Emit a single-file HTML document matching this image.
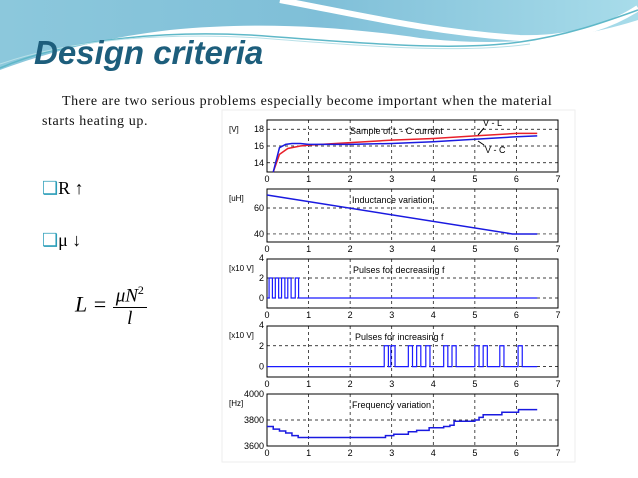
<!DOCTYPE html>
<html><head><meta charset="utf-8"><style>
body{margin:0;width:638px;height:478px;overflow:hidden;background:#fff;position:relative;font-family:"Liberation Serif",serif}
.abs{position:absolute}
</style></head><body>
<svg class="abs" style="left:0;top:0" width="638" height="478">
<defs><linearGradient id="g1" x1="0" x2="1"><stop offset="0" stop-color="#8cc8dc"/><stop offset="0.5" stop-color="#7fbfd8"/><stop offset="1" stop-color="#a8dcea"/></linearGradient></defs>
<path d="M0,0 H638 V20 C560,45 480,45 420,38 C330,25 250,22 170,30 C100,38 40,55 0,70 Z" fill="url(#g1)"/>
<path d="M280,0 C360,15 430,32 520,38 C580,40 620,20 638,8" stroke="#fff" stroke-width="6" fill="none"/>
<path d="M0,68 C60,42 150,30 250,35 C350,42 450,52 520,42 C570,35 610,20 638,10" stroke="#5fb8c8" stroke-width="1.5" fill="none"/>
<path d="M0,64 C70,40 160,32 260,38 C360,46 460,54 530,44" stroke="#b8e0e8" stroke-width="1" fill="none"/>
<rect x="222" y="110" width="353" height="352" fill="none" stroke="#eee"/>
</svg>
<div class="abs" style="left:34px;top:34px;font-family:'Liberation Sans',sans-serif;font-style:italic;font-weight:bold;font-size:33px;color:#1d5e7c">Design criteria</div>
<div class="abs" style="left:42px;top:92px;font-size:14px;letter-spacing:0.6px;line-height:20px;color:#111;white-space:nowrap"><span style="padding-left:20px">There are two serious problems especially become important when the material</span><br>starts heating up.</div>
<div class="abs" style="left:42px;top:178px;font-size:18px"><span style="color:#2a9db8">❑</span>R ↑</div>
<div class="abs" style="left:42px;top:230px;font-size:18px"><span style="color:#2a9db8">❑</span>μ ↓</div>
<div class="abs" style="left:75px;top:283px;font-size:22px;font-style:italic">L = <span style="display:inline-block;vertical-align:middle;text-align:center;font-size:19px"><span style="display:block;border-bottom:1.5px solid #000;padding:0 3px">μN<sup style="font-size:12px;font-style:normal">2</sup></span><span style="display:block">l</span></span></div>
<svg id="chart" class="abs" style="left:0;top:0" width="638" height="478"></svg>
<script>
const xTicks=[0,1,2,3,4,5,6,7];
const vcX=[0.15,0.3,0.45,0.6,0.8,1,2,3,4,5,6,6.5];
const vcY=[12.9,15.8,16.2,16.3,16.3,16.2,16.2,16.3,16.5,16.8,17.1,17.2];
const vlX=[0.15,0.3,0.5,0.8,1,2,3,4,5,6,6.5];
const vlY=[12.9,15,15.7,16,16.1,16.4,16.7,16.9,17.2,17.5,17.5];
const indX=[0,5.9,6.5];
const indY=[70,40,40];
const decStarts=[0.05,0.2,0.35,0.5,0.68];
const incStarts=[2.82,2.98,3.4,3.6,3.82,4.25,4.45,5.0,5.2,5.6,6.04];
const freqStepX=[0,0.15,0.3,0.45,0.6,0.75,2.85,3.05,3.4,3.6,3.9,4.25,4.4,4.5,5.0,5.1,5.2,5.65,6.05];
const freqStepY=[3750,3730,3715,3700,3680,3665,3680,3690,3710,3720,3740,3750,3760,3790,3800,3820,3840,3860,3880];
const NS="http://www.w3.org/2000/svg";
const svg=document.getElementById('chart');
const X0=267,X1=558;
const sx=v=>X0+(v/7)*(X1-X0);
function mk(t,a){const e=document.createElementNS(NS,t);for(const k in a)e.setAttribute(k,a[k]);svg.appendChild(e);return e;}
function panel(name,top,bot,ymin,ymax,yTicks,unit,title,tx){
  const sy=v=>bot-(v-ymin)/(ymax-ymin)*(bot-top);
  const g=mk('g',{});
  
  
  mk('rect',{x:X0,y:top,width:X1-X0,height:bot-top,fill:'#fff',stroke:'#000','stroke-width':1});
  xTicks.slice(1,-1).forEach(t=>mk('line',{x1:sx(t),x2:sx(t),y1:top,y2:bot,stroke:'#000','stroke-dasharray':'3,3','stroke-width':0.7}));
  yTicks.forEach(t=>{const y=sy(t);if(y>top+1&&y<bot-1)mk('line',{x1:X0,x2:X1,y1:y,y2:y,stroke:'#000','stroke-dasharray':'3,3','stroke-width':0.7});
    const l=mk('text',{x:X0-3,y:y+3,'text-anchor':'end','font-size':9,'font-family':'Liberation Sans Narrow, Liberation Sans, sans-serif'});l.textContent=t;
    
    });
  xTicks.forEach(t=>{const l=mk('text',{x:sx(t),y:bot+10,'text-anchor':'middle','font-size':9,'font-family':'Liberation Sans, sans-serif'});l.textContent=t;
    
    });
  const u=mk('text',{x:229,y:top+12,'font-size':8,'font-family':'Liberation Sans Narrow, Liberation Sans, sans-serif'});u.textContent=unit;
  
  
  const tt=mk('text',{x:tx,y:top+14,'font-size':9,'font-family':'Liberation Sans Narrow, Liberation Sans, sans-serif'});tt.textContent=title;
  
  
  return sy;
}
function line(xs,ys,sy,color,name){const p=xs.map((x,i)=>sx(x)+','+sy(ys[i])).join(' ');const e=mk('polyline',{points:p,fill:'none',stroke:color,'stroke-width':1.5});
  
  }
function steps(xs,ys,end,sy,color,name){let p=[];xs.forEach((x,i)=>{if(i>0)p.push(sx(x)+','+sy(ys[i-1]));p.push(sx(x)+','+sy(ys[i]));});p.push(sx(end)+','+sy(ys[ys.length-1]));
  const e=mk('polyline',{points:p.join(' '),fill:'none',stroke:color,'stroke-width':1.5});
  
  }
function pulses(starts,w,h,end,sy,name){let p=[sx(0)+','+sy(0)];starts.forEach(s=>{p.push(sx(s)+','+sy(0),sx(s)+','+sy(h),sx(s+w)+','+sy(h),sx(s+w)+','+sy(0));});p.push(sx(end)+','+sy(0));
  const e=mk('polyline',{points:p.join(' '),fill:'none',stroke:'#1a1aff','stroke-width':1.2});
  
  }
let sy=panel('voltage',120,172,12.9,19.1,[14,16,18],'[V]','Sample of L - C current',350);
line(vlX,vlY,sy,'#e8202a','v-l-line');
line(vcX,vcY,sy,'#1a1ae0','v-c-line');
mk('text',{x:483,y:126,'font-size':9,'font-family':'Liberation Sans, sans-serif'}).textContent='V - L';
mk('text',{x:485,y:153,'font-size':9,'font-family':'Liberation Sans, sans-serif'}).textContent='V - C';
mk('line',{x1:484,y1:128,x2:478,y2:135,stroke:'#000'});
mk('line',{x1:484,y1:145,x2:478,y2:141,stroke:'#000'});
sy=panel('inductance',189,242,33.8,74.6,[40,60],'[uH]','Inductance variation',352);
line(indX,indY,sy,'#1a1ae0','inductance-line');
sy=panel('pulses-decreasing',259,308,-1,3.9,[0,2,4],'[x10 V]','Pulses for decreasing f',353);
pulses(decStarts,0.08,2,6.5,sy,'decreasing-pulses-line');
sy=panel('pulses-increasing',326,377,-1,3.9,[0,2,4],'[x10 V]','Pulses for increasing  f',355);
pulses(incStarts,0.1,2,6.5,sy,'increasing-pulses-line');
sy=panel('frequency',394,446,3600,4000,[3600,3800,4000],'[Hz]','Frequency variation',352);
steps(freqStepX,freqStepY,6.5,sy,'#1a1ae0','frequency-line');
</script>
</body></html>
